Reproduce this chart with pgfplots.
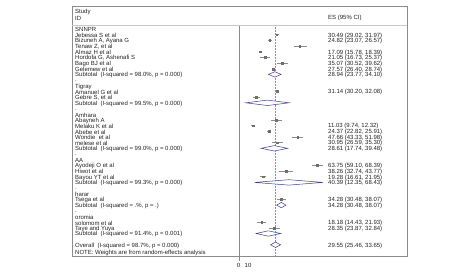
\documentclass[border=0pt]{standalone}
\usepackage{pgfplots}
\pgfplotsset{compat=1.18}
\usepackage{pgfplotstable}
\usepackage{fontspec}
\setmainfont{Liberation Sans}
\definecolor{boxgray}{RGB}{140,140,140}
\definecolor{hdrgray}{RGB}{200,200,200}
\definecolor{dashcol}{RGB}{215,110,135}
\definecolor{diam}{RGB}{60,60,160}
\definecolor{mk}{RGB}{110,110,110}
\definecolor{ci}{RGB}{140,140,140}
\definecolor{txt}{RGB}{35,35,35}

% study estimates: es, lo, hi, row position (px from top)
\pgfplotstableread{
es    lo    hi    y
30.49 29.02 31.97 34.7
24.82 23.07 26.57 40.4
49.40 44.80 55.40 46.0
17.09 15.78 18.39 51.7
21.05 16.73 25.37 57.4
35.07 30.52 39.62 63.1
27.57 26.40 28.74 68.8
31.14 30.20 32.08 91.5
13.90 11.20 16.60 97.2
30.30 26.20 35.00 119.9
11.03 9.74  12.32 125.6
24.37 22.82 25.91 131.2
47.66 43.33 51.99 136.9
30.95 26.59 35.30 142.6
63.75 59.10 68.39 165.3
38.26 32.74 43.77 171.0
19.28 16.61 21.95 176.7
34.28 30.48 38.07 199.4
18.18 14.43 21.93 222.1
28.35 23.87 32.84 227.8
}\studies

\newcommand{\pooled}[4]{% es lo hi y
  \addplot[draw=diam, fill=white, line width=0.5pt] coordinates {(#2,#4) (#1,\fpeval{#4-2.7}) (#3,#4) (#1,\fpeval{#4+2.7})} -- cycle;}
\newcommand{\T}[3]{\node at ({#1},{29.8+5.68*#2}) {#3};}

\begin{document}
\begin{tikzpicture}
\useasboundingbox (0,0) rectangle (474pt,271pt);
\begin{axis}[
  at={(0,0)}, anchor=south west,
  scale only axis, width=474pt, height=271pt,
  xmin={-239.5/1.22}, xmax={(474-239.5)/1.22},
  ymin=0, ymax=271, y dir=reverse,
  hide axis, clip=false]
% reference lines
\addplot[ci, line width=0.5pt] coordinates {(0,25) (0,256)};
\addplot[dashcol, line width=0.5pt, dash pattern=on 1.5pt off 1.5pt] coordinates {(29.55,27) (29.55,256)};
% study markers with CIs
\addplot[only marks, mark=square*, mark size=0.9pt, mark options={fill=mk, draw=mk},
  error bars/.cd, x dir=both, x explicit, error mark=none,
  error bar style={ci, line width=0.6pt}]
  table[x=es, y=y, x error plus expr=\thisrow{hi}-\thisrow{es},
        x error minus expr=\thisrow{es}-\thisrow{lo}] {\studies};
% pooled diamonds
\pooled{28.94}{23.77}{34.10}{74.4}
\pooled{22.95}{5.20}{40.70}{102.8}
\pooled{28.61}{17.74}{39.48}{148.3}
\pooled{40.39}{12.35}{68.43}{182.4}
\pooled{34.28}{30.48}{38.07}{205.1}
\pooled{23.60}{13.60}{33.70}{233.5}
\pooled{29.55}{25.46}{33.65}{244.8}
\end{axis}
\begin{scope}[x=1pt, y=-1pt, yshift=271pt]
\draw[boxgray, line width=0.6pt] (72,6) rectangle (407,256);
\draw[hdrgray, line width=0.5pt] (72,25) -- (407,25);
\draw[boxgray, line width=0.5pt] (239.5,256) -- (239.5,261);
\begin{scope}[every node/.style={anchor=west, inner sep=0pt, text=txt, font=\fontsize{6}{6}\selectfont}]
\node at (75,12) {Study};
\node at (75,18) {ID};
\node at (328,18) {ES (95\% CI)};
\T{75}{0}{SNNPR}
\T{75}{1}{Jebessa S et al}
\T{75}{2}{Bizuneh A, Ayana G}
\T{75}{3}{Tenaw Z, et al}
\T{75}{4}{Almaz H et al}
\T{75}{5}{Hordofa G, Ashenafi S}
\T{75}{6}{Bago BJ et al}
\T{75}{7}{Gelemew et al}
\T{75}{8}{Subtotal\ \ (I-squared = 98.0\%, p = 0.000)}
\T{75}{9.1}{.}
\T{75}{10}{Tigray}
\T{75}{11}{Amanuel G et al}
\T{75}{12}{Gebre S, et al}
\T{75}{13}{Subtotal\ \ (I-squared = 99.5\%, p = 0.000)}
\T{75}{14.1}{.}
\T{75}{15}{Amhara}
\T{75}{16}{Abayneh A}
\T{75}{17}{Melaku K et al}
\T{75}{18}{Abebe et al}
\T{75}{19}{Wondie\ \ et al}
\T{75}{20}{melese et al}
\T{75}{21}{Subtotal\ \ (I-squared = 99.0\%, p = 0.000)}
\T{75}{22.1}{.}
\T{75}{23}{AA}
\T{75}{24}{Ayodeji O et al}
\T{75}{25}{Hiwot et al}
\T{75}{26}{Bayou YT et al}
\T{75}{27}{Subtotal\ \ (I-squared = 99.3\%, p = 0.000)}
\T{75}{28.1}{.}
\T{75}{29}{harar}
\T{75}{30}{Tsega et al}
\T{75}{31}{Subtotal\ \ (I-squared = .\%, p = .)}
\T{75}{32.1}{.}
\T{75}{33}{oromia}
\T{75}{34}{solomom et al}
\T{75}{35}{Taye and Yuya}
\T{75}{36}{Subtotal\ \ (I-squared = 91.4\%, p = 0.001)}
\T{75}{38}{Overall\ \ (I-squared = 98.7\%, p = 0.000)}
\node at (75,252.5) {NOTE: Weights are from random-effects analysis};
% right column
\T{328}{1}{30.49 (29.02, 31.97)}
\T{328}{2}{24.82 (23.07, 26.57)}
\T{328}{4}{17.09 (15.78, 18.39)}
\T{328}{5}{21.05 (16.73, 25.37)}
\T{328}{6}{35.07 (30.52, 39.62)}
\T{328}{7}{27.57 (26.40, 28.74)}
\T{328}{8}{28.94 (23.77, 34.10)}
\T{328}{11}{31.14 (30.20, 32.08)}
\T{328}{17}{11.03 (9.74, 12.32)}
\T{328}{18}{24.37 (22.82, 25.91)}
\T{328}{19}{47.66 (43.33, 51.98)}
\T{328}{20}{30.95 (26.59, 35.30)}
\T{328}{21}{28.61 (17.74, 39.48)}
\T{328}{24}{63.75 (59.10, 68.39)}
\T{328}{25}{38.26 (32.74, 43.77)}
\T{328}{26}{19.28 (16.61, 21.95)}
\T{328}{27}{40.39 (12.35, 68.43)}
\T{328}{30}{34.28 (30.48, 38.07)}
\T{328}{31}{34.28 (30.48, 38.07)}
\T{328}{34}{18.18 (14.43, 21.93)}
\T{328}{35}{28.35 (23.87, 32.84)}
\T{328}{38}{29.55 (25.46, 33.65)}
\end{scope}
\begin{scope}[every node/.style={anchor=center, inner sep=0pt, text=txt, font=\fontsize{6}{6}\selectfont}]
\node at (238.5,265.5) {0};
\node at (248,265.5) {10};
\end{scope}
\end{scope}
\end{tikzpicture}
\end{document}
